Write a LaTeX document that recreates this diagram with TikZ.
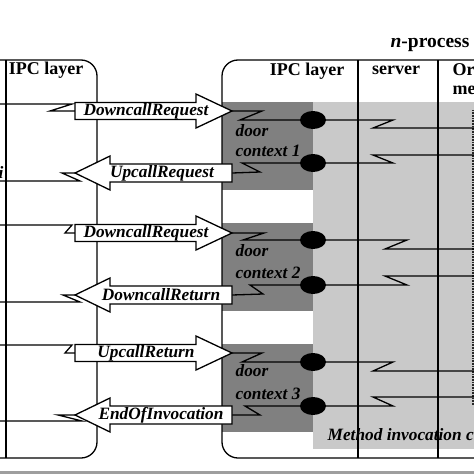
\documentclass[tikz,border=0pt]{standalone}
\usepackage{fontspec}
\setmainfont{Liberation Serif}
\usetikzlibrary{shapes.geometric}
\definecolor{darkg}{gray}{0.50}
\definecolor{lightg}{gray}{0.79}
\definecolor{barg}{gray}{0.62}
\tikzset{
  ln/.style={line width=1.3pt, line join=miter},
  hdr/.style={font=\fontsize{18}{20}\selectfont\bfseries, inner sep=0pt},
  lbl/.style={font=\fontsize{17.3}{20}\selectfont\bfseries\itshape, inner sep=0pt},
  ctx/.style={font=\fontsize{17.3}{20}\selectfont\bfseries\itshape, inner sep=0pt, anchor=base west},
  blob/.style={ellipse, fill=black, draw=none, minimum width=26pt, minimum height=18pt, inner sep=0pt, outer sep=0pt},
  rarr/.pic={\draw[ln, fill=white] (0,0) -- (-36,-17) -- (-36,-8.5) -- (-157,-8.5) -- (-157,8.5) -- (-36,8.5) -- (-36,17) -- cycle;},
  larr/.pic={\draw[ln, fill=white] (0,0) -- (35,-17) -- (35,-9) -- (157,-9) -- (157,9) -- (35,9) -- (35,17) -- cycle;},
}
\begin{document}
\begin{tikzpicture}[x=1pt, y=-1pt, ln]
\clip (0,0) rectangle (474,474);
\fill[white] (0,0) rectangle (474,474);
% shaded regions
\fill[lightg] (313,102) rectangle (474,449);
\fill[darkg] (222,102) rectangle (313,190);
\fill[darkg] (222,223) rectangle (313,311);
\fill[darkg] (222,344) rectangle (313,432);
\fill[barg] (0,471) rectangle (474,474);
\draw[line width=3pt, black!85, dash pattern=on 0.8pt off 0.8pt] (473,110) -- (473,405);
% boxes
\draw[rounded corners=16pt] (-5,60) -- (97,60) -- (97,458) -- (-5,458);
\draw (6,60) -- (6,458);
\draw[rounded corners=16pt] (480,60) -- (222,60) -- (222,458) -- (480,458);
\draw (358,60) -- (358,458);
\draw (438,60) -- (438,458);
% headers
\node[hdr] (ipcL) at (46,70) {IPC layer};
\node[hdr] (ipcR) at (307,71) {IPC layer};
\node[hdr] (server) at (396,70) {server};
\node[hdr, anchor=west] (orh) at (452,70) {Or};
\node[hdr, anchor=west] (meh) at (452,90) {me};
\node[hdr, anchor=west, font=\fontsize{19.5}{22}\selectfont\bfseries] (nproc) at (390,45) {\textit{n}-process};
% dots
\node[blob] (d1a) at (313,120) {};
\node[blob] (d1b) at (313,163) {};
\node[blob] (d2a) at (313,240) {};
\node[blob] (d2b) at (313,285) {};
\node[blob] (d3a) at (313,362) {};
\node[blob] (d3b) at (313,406) {};
% free ends on the right
\coordinate (r1a) at (480,128);
\coordinate (r1b) at (480,155);
\coordinate (r2a) at (480,249);
\coordinate (r2b) at (480,276);
\coordinate (r3a) at (480,371);
\coordinate (r3b) at (480,397);
\draw (d1a) -- (393,120) -- (373,128) -- (r1a);
\draw (d1b) -- (393,163) -- (373,155) -- (r1b);
\draw (d2a) -- (407,240) -- (385,249) -- (r2a);
\draw (d2b) -- (407,285) -- (385,276) -- (r2b);
\draw (d3a) -- (393,362) -- (373,371) -- (r3a);
\draw (d3b) -- (393,406) -- (373,397) -- (r3b);
% arrow ends
\coordinate (t1) at (232,111); \coordinate (s1) at (75,111);
\coordinate (t2) at (75,173);  \coordinate (s2) at (232,173);
\coordinate (t3) at (232,233); \coordinate (s3) at (75,233);
\coordinate (t4) at (75,295);  \coordinate (s4) at (232,295);
\coordinate (t5) at (232,353); \coordinate (s5) at (75,353);
\coordinate (t6) at (75,415);  \coordinate (s6) at (232,415);
% free ends on the left
\coordinate (w1) at (-5,104);
\coordinate (w2) at (-5,181);
\coordinate (w3) at (-5,225);
\coordinate (w4) at (-5,302);
\coordinate (w5) at (-5,345);
\coordinate (w6) at (-5,421);
% zigzags left
\draw (w1) -- (72,104) -- (50,111) -- (s1);
\draw (t2) -- (62,173) -- (80,181) -- (w2);
\draw (w3) -- (72,225) -- (65,233) -- (s3);
\draw (t4) -- (63,295) -- (80,302) -- (w4);
\draw (w5) -- (72,345) -- (65,353) -- (s5);
\draw (t6) -- (58,415) -- (82,421) -- (w6);
% zigzags into the dots
\draw (t1) -- (262,111) -- (240,120) -- (d1a);
\draw (s2) -- (260,172) -- (242,163) -- (d1b);
\draw (t3) -- (264,233) -- (243,240) -- (d2a);
\draw (s4) -- (263,294) -- (250,285) -- (d2b);
\draw (t5) -- (262,353) -- (242,362) -- (d3a);
\draw (s6) -- (260,415) -- (245,406) -- (d3b);
% big arrows
\pic at (t1) {rarr};
\pic at (t2) {larr};
\pic at (t3) {rarr};
\pic at (t4) {larr};
\pic at (t5) {rarr};
\pic at (t6) {larr};
\node[lbl] (l1) at (146,111) {DowncallRequest};
\node[lbl] (l2) at (162,173) {UpcallRequest};
\node[lbl] (l3) at (146,233) {DowncallRequest};
\node[lbl] (l4) at (161,295) {DowncallReturn};
\node[lbl] (l5) at (146,353) {UpcallReturn};
\node[lbl] (l6) at (161,415) {EndOfInvocation};
\node[lbl, anchor=base west] (ci) at (-2,178) {i};
% door contexts
\node[ctx] (c1d) at (235,136) {door};
\node[ctx] (c1c) at (235,156) {context 1};
\node[ctx] (c2d) at (235,256) {door};
\node[ctx] (c2c) at (235,278) {context 2};
\node[ctx] (c3d) at (235,376) {door};
\node[ctx] (c3c) at (235,399) {context 3};
\node[ctx] (mic) at (327,440) {Method invocation c};
\end{tikzpicture}
\end{document}
